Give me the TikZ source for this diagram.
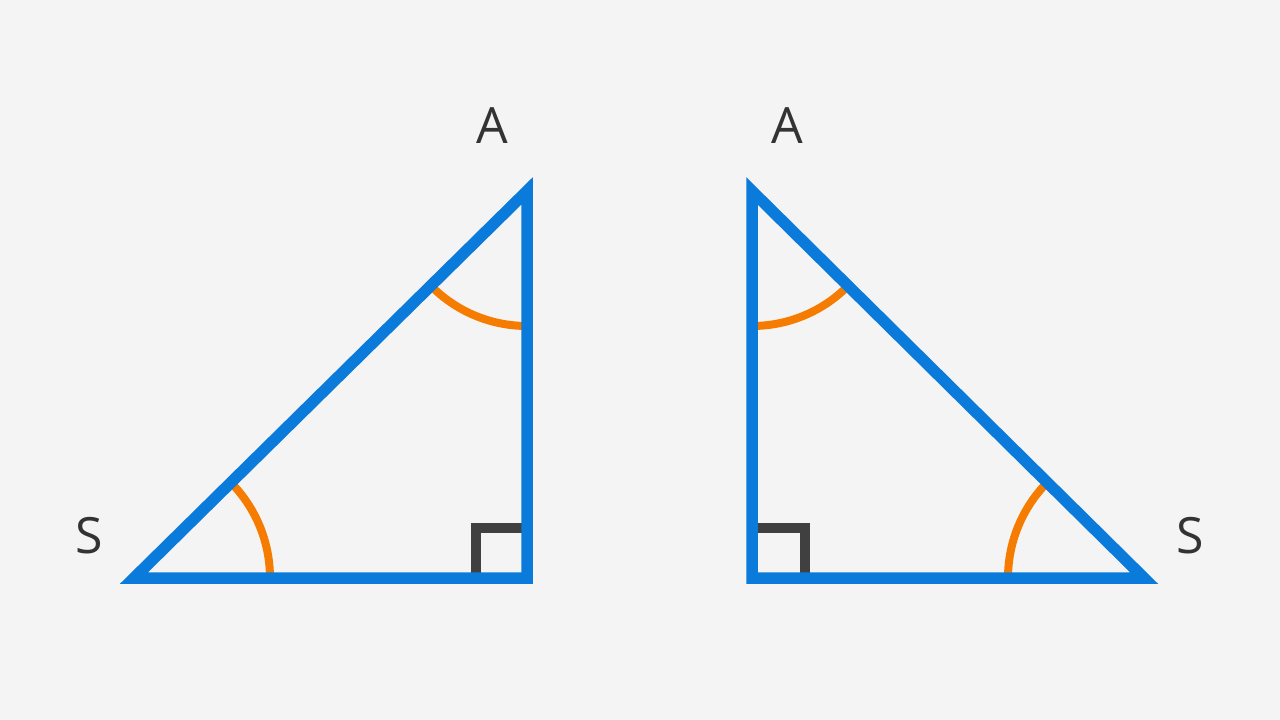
\documentclass[tikz,border=0pt]{standalone}
\usepackage{fontspec}
\setmainfont{Open Sans}
\definecolor{bg}{HTML}{F4F4F4}
\definecolor{triblue}{HTML}{0A7BDB}
\definecolor{arcorange}{HTML}{F57C00}
\definecolor{markgray}{HTML}{404040}
\definecolor{lblgray}{HTML}{333333}
\tikzset{
  tri/.style={draw=triblue, line width=11.5pt, line join=miter},
  anglearc/.style={draw=arcorange, line width=8pt},
  rightmark/.style={draw=markgray, line width=9.5pt, line join=miter},
  lbl/.style={text=lblgray, font=\fontsize{50}{60}\selectfont, inner sep=0pt, anchor=base}
}
\begin{document}
\begin{tikzpicture}[x=1pt, y=-1pt]
\fill[bg] (0,0) rectangle (1280,720);
\useasboundingbox (0,0) rectangle (1280,720);
% left triangle
\coordinate (S1) at (134,578);
\coordinate (A1) at (527,191);
\coordinate (C1) at (527,578);
% right triangle
\coordinate (A2) at (752,191);
\coordinate (C2) at (752,578);
\coordinate (S2) at (1144,578);
% angle arcs
\draw[anglearc] (270,578) arc[start angle=0, end angle=-44.6, radius=136];
\draw[anglearc] (527,326) arc[start angle=90, end angle=135.4, radius=135];
\draw[anglearc] (752,326) arc[start angle=90, end angle=45.5, radius=135];
\draw[anglearc] (1008,578) arc[start angle=180, end angle=224.6, radius=136];
% right-angle marks
\draw[rightmark] (C1) ++(-51,0) -- ++(0,-50) -- ++(51,0);
\draw[rightmark] (C2) ++(53,0) -- ++(0,-50) -- ++(-53,0);
% triangles
\draw[tri] (S1) -- (A1) -- (C1) -- cycle;
\draw[tri] (A2) -- (C2) -- (S2) -- cycle;
% labels
\node[lbl] (lA1) at (492,143) {A};
\node[lbl] (lS1) at (89,553) {S};
\node[lbl] (lA2) at (787,143) {A};
\node[lbl] (lS2) at (1190,553) {S};
\end{tikzpicture}
\end{document}
